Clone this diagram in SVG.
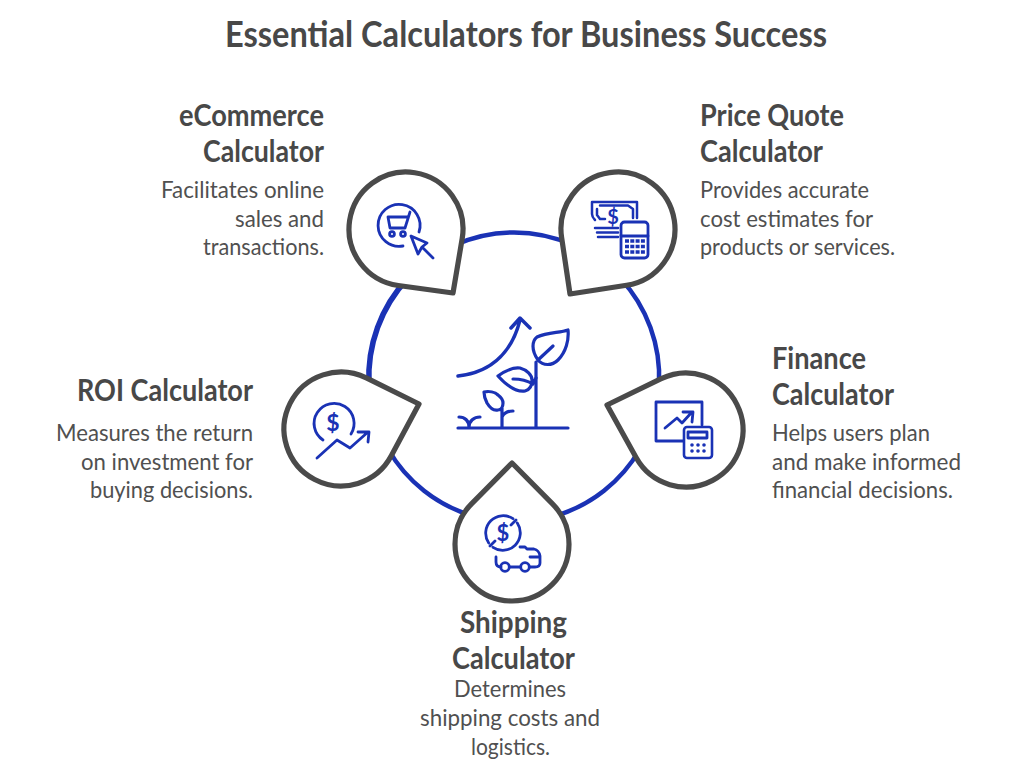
<svg xmlns="http://www.w3.org/2000/svg" width="1024" height="768" viewBox="0 0 1024 768">
<style>
text{font-family:Lato,"Noto Sans",sans-serif;fill:#484848}
.t{font-size:36px;font-weight:700}
.h{font-size:30px;font-weight:700}
.b{font-size:23px;font-weight:400;fill:#505050}
.node{fill:#fff;stroke:#4a4a4a;stroke-width:5.2;stroke-linejoin:round}
.ring{fill:none;stroke:#1a32b5;stroke-width:4.5}
.i{fill:none;stroke:#1a32b5;stroke-width:2.800;stroke-linecap:round;stroke-linejoin:round}
.p{fill:none;stroke:#1a32b5;stroke-width:3.200;stroke-linecap:round;stroke-linejoin:round}
.f{fill:#1a32b5;stroke:none}
.d{font-size:24px;font-weight:700;fill:#1a32b5;text-anchor:middle}
</style>
<rect width="1024" height="768" fill="#fff"/>
<text class="t" x="225" y="47" textLength="602" lengthAdjust="spacingAndGlyphs">Essential Calculators for Business Success</text>
<g id="connectors">
<path class="ring" d="M455 245A145 145 0 0 1 573 245"/>
<path class="ring" d="M620 278A145 145 0 0 1 659 385"/>
<path class="ring" d="M640 449A145 145 0 0 1 555 516"/>
<path class="ring" d="M473 516A145 145 0 0 1 388 449"/>
<path class="ring" d="M369 385A145 145 0 0 1 408 278" style="stroke-width:5.500"/>
</g>
<g id="center">
<path class="p" style="stroke-width:3.500" d="M458 376C495 372 513 348 520 320M511 328L520 318L530 328"/>
<path class="p" d="M458 428H568M536 428V362M538 360C531 350 532 341 537 337C548 332 560 333 568 330C569 340 566 352 558 360C552 366 543 366 538 360ZM538 360L553 346"/>
<path class="p" d="M498 376C505 371 513 367 520 368C527 370 532 375 532 380C532 386 529 390 525 391C518 392 508 387 498 376ZM513 379C520 379 528 381 533 384L536 378"/>
<path class="p" d="M502 427V408M484 392C489 391 495 392 498 395C502 398 503 401 503 403C503 407 501 410 498 410C494 411 490 408 487 403C485 399 484 395 484 392ZM502 417C504 413 508 411 513 411M469 427C469 421 465 417 459 417M469 427C469 421 474 417 480 417"/>
</g>
<g id="ecommerce">
<path class="node" d="M453 293L398.300 285.500A57 57 0 1 1 462.200 238.500Z"/>
<path class="i" d="M419 232A21 21 0 1 0 403 246"/>
<path class="i" d="M410 212L405 228H390L388 217H407"/>
<circle class="i" cx="392" cy="234" r="2.400"/><circle class="i" cx="403" cy="234" r="2.400"/>
<path class="i" d="M411 236L427 243L422 247L418 254ZM423 248L433 258"/>
<text class="h" x="179" y="126" textLength="145" lengthAdjust="spacingAndGlyphs">eCommerce</text>
<text class="h" x="203" y="162" textLength="121" lengthAdjust="spacingAndGlyphs">Calculator</text>
<text class="b" x="161" y="198" textLength="163" lengthAdjust="spacingAndGlyphs">Facilitates online</text>
<text class="b" x="235" y="227" textLength="89" lengthAdjust="spacingAndGlyphs">sales and</text>
<text class="b" x="203" y="255" textLength="121" lengthAdjust="spacingAndGlyphs">transactions.</text>
</g>
<g id="pricequote">
<path class="node" d="M570 294L561.600 237.400A57 57 0 1 1 626.600 285.300Z"/>
<path class="i" d="M595 220Q592 217 592 214V202H637V218M600 205.500H628L633 209V218M597 209V215L600 219H605M595 228H618M597 232.500H618M598 237H618" style="stroke-width:2.500"/>
<text class="d" x="613" y="224" style="font-size:20px">$</text>
<rect x="621" y="222" width="27" height="36" rx="3.500" fill="#fff" stroke="#1a32b5" stroke-width="2.800"/>
<path class="i" d="M621 236H648"/>
<path d="M625 241H645M625 246.500H645M625 252H645" stroke="#1a32b5" stroke-width="3.400" stroke-dasharray="4 1.300" fill="none"/>
<text class="h" x="700" y="126" textLength="144" lengthAdjust="spacingAndGlyphs">Price Quote</text>
<text class="h" x="700" y="162" textLength="123" lengthAdjust="spacingAndGlyphs">Calculator</text>
<text class="b" x="700" y="198" textLength="169" lengthAdjust="spacingAndGlyphs">Provides accurate</text>
<text class="b" x="700" y="227" textLength="173" lengthAdjust="spacingAndGlyphs">cost estimates for</text>
<text class="b" x="700" y="255" textLength="195" lengthAdjust="spacingAndGlyphs">products or services.</text>
</g>
<g id="finance">
<path class="node" d="M607 405L661.200 378.700A57 57 0 1 1 636.100 457.600Z"/>
<path class="i" d="M683 441H656V402H702V425M665 428L677 418L682 423L692 412M683 412H693L692 422"/>
<rect x="684" y="427" width="28" height="31" rx="3" fill="#fff" stroke="#1a32b5" stroke-width="2.600"/>
<rect class="i" x="688" y="432" width="19" height="6"/>
<g class="f"><circle cx="692" cy="445" r="1.800"/><circle cx="698" cy="445" r="1.800"/><circle cx="704" cy="445" r="1.800"/><circle cx="692" cy="451" r="1.800"/><circle cx="698" cy="451" r="1.800"/><circle cx="704" cy="451" r="1.800"/></g>
<text class="h" x="772" y="369" textLength="94" lengthAdjust="spacingAndGlyphs">Finance</text>
<text class="h" x="772" y="405" textLength="122" lengthAdjust="spacingAndGlyphs">Calculator</text>
<text class="b" x="772" y="441" textLength="158" lengthAdjust="spacingAndGlyphs">Helps users plan</text>
<text class="b" x="772" y="470" textLength="189" lengthAdjust="spacingAndGlyphs">and make informed</text>
<text class="b" x="772" y="498" textLength="181" lengthAdjust="spacingAndGlyphs">financial decisions.</text>
</g>
<g id="shipping">
<path class="node" d="M512 463L552.500 503.900A57 57 0 1 1 471.500 503.900Z"/>
<path class="i" d="M517.300 523A17.500 17.500 0 0 1 493 547.300M488.700 543A17.500 17.500 0 0 1 513 518.700M511 525L516 520M490 546L495 541"/>
<text class="d" x="503" y="541" style="font-size:22px">$</text>
<path class="i" d="M496 557V562Q496 567 501 567M510 567H520M530 567H535Q540 567 540 563V556Q539 550 534 549H527L525 547H520M530 557H540"/>
<circle class="i" cx="505" cy="567" r="4.300"/><circle class="i" cx="525" cy="567" r="4.300"/>
<text class="h" x="460" y="633" textLength="107" lengthAdjust="spacingAndGlyphs">Shipping</text>
<text class="h" x="452" y="669" textLength="123" lengthAdjust="spacingAndGlyphs">Calculator</text>
<text class="b" x="454" y="697" textLength="112" lengthAdjust="spacingAndGlyphs">Determines</text>
<text class="b" x="420" y="726" textLength="180" lengthAdjust="spacingAndGlyphs">shipping costs and</text>
<text class="b" x="471" y="755" textLength="79" lengthAdjust="spacingAndGlyphs">logistics.</text>
</g>
<g id="roi">
<path class="node" d="M419 404L391.300 455.800A57 57 0 1 1 366.300 377.900Z"/>
<path class="i" d="M323 440A20 20 0 1 1 351 434"/>
<text class="d" x="333" y="431" style="font-size:23px">$</text>
<path class="i" d="M317 458L337 440L350 448L368 432M358 432H369L368 442"/>
<text class="h" x="77" y="401" textLength="176" lengthAdjust="spacingAndGlyphs">ROI Calculator</text>
<text class="b" x="56" y="441" textLength="197" lengthAdjust="spacingAndGlyphs">Measures the return</text>
<text class="b" x="81" y="470" textLength="172" lengthAdjust="spacingAndGlyphs">on investment for</text>
<text class="b" x="90" y="498" textLength="163" lengthAdjust="spacingAndGlyphs">buying decisions.</text>
</g>
</svg>
